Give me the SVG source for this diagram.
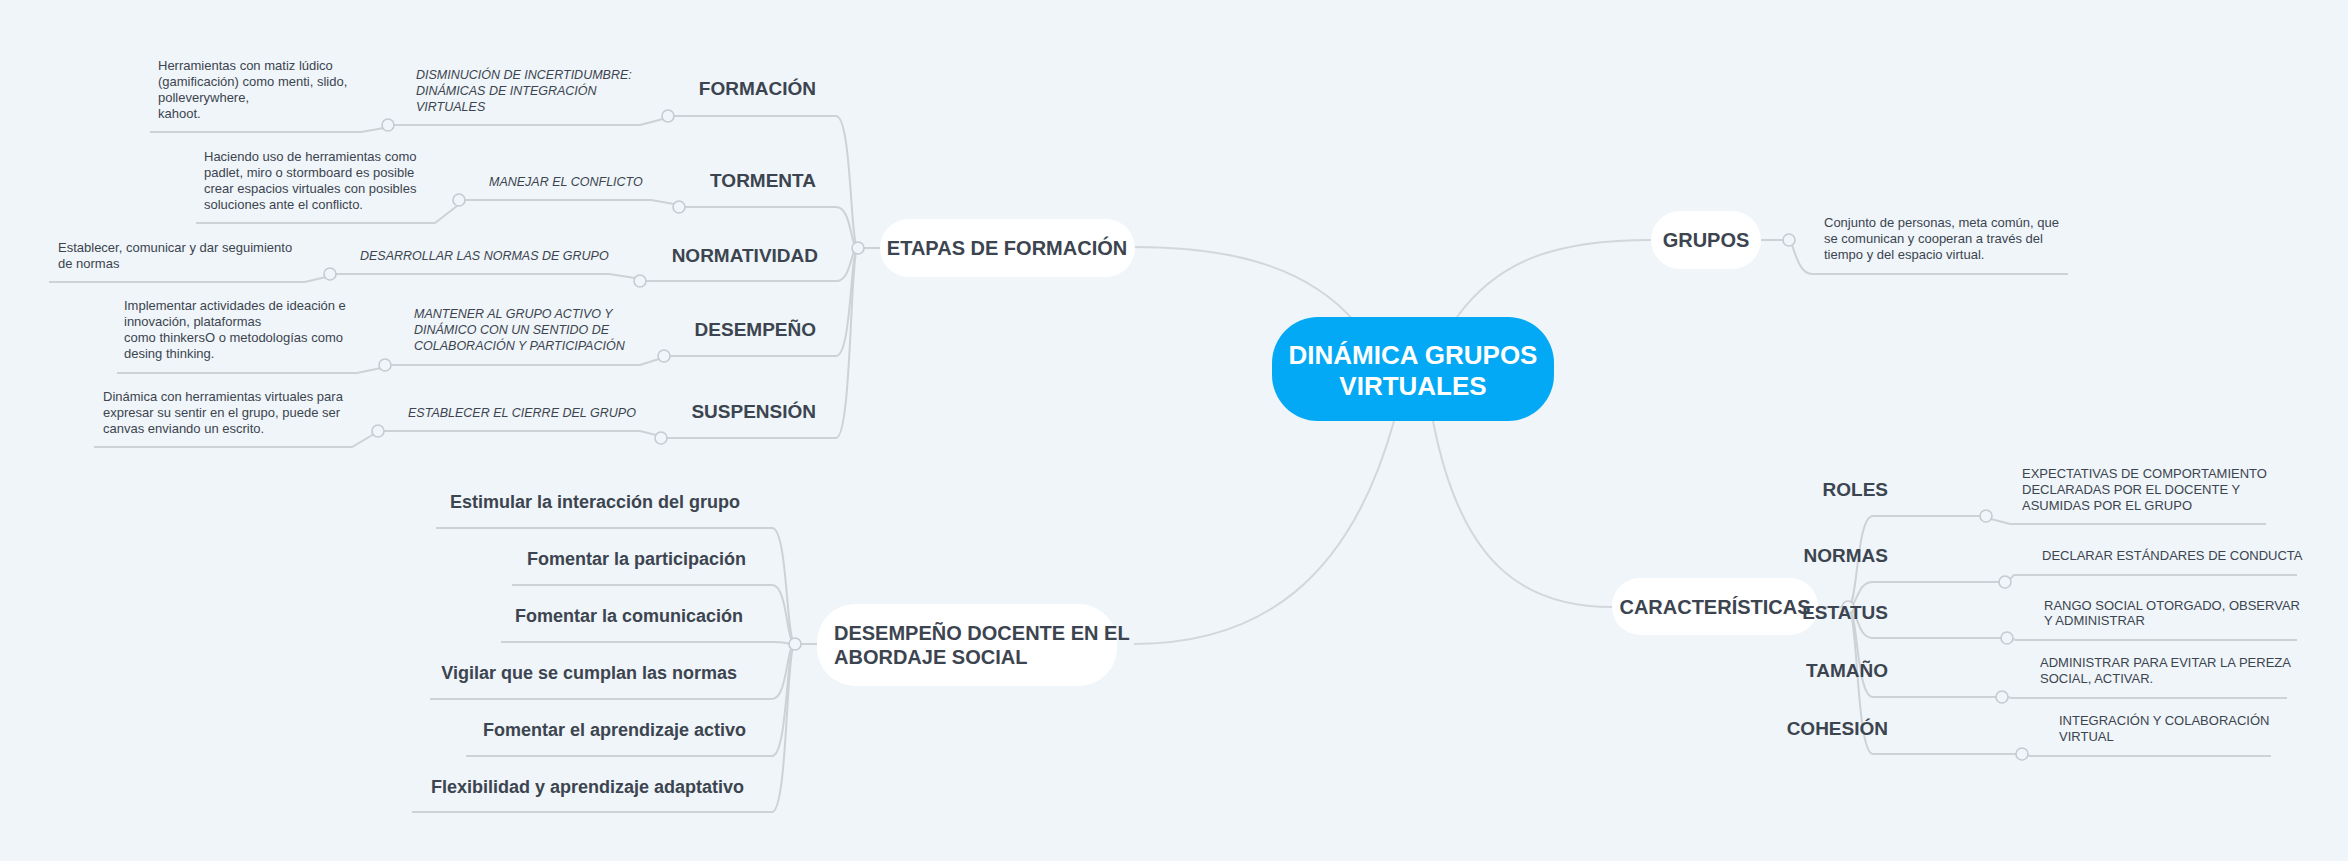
<svg xmlns="http://www.w3.org/2000/svg" width="2348" height="861" viewBox="0 0 2348 861">
<style>
.ln{fill:none;stroke:#cdd2d7;stroke-width:2}
.cn{fill:none;stroke:#d3d7db;stroke-width:2}
.dot{fill:#eff5f8;stroke:#c5cbd0;stroke-width:1.6}
.bx{fill:#ffffff}
.t{font-family:"Liberation Sans",Arial,sans-serif;fill:#3c4450}
.h{font-size:19px;font-weight:bold;text-anchor:end}
.b{font-size:20px;font-weight:bold}
.i{font-size:12.5px;font-style:italic}
.s{font-size:13px}
.d{font-size:18px;font-weight:bold;text-anchor:end}
</style>
<rect width="2348" height="861" fill="#eff5f8"/>
<g id="connectors">
<path class="cn" d="M1355,322 C1300,258 1210,247 1134,247"/>
<path class="cn" d="M1457,317 C1500,258 1560,240 1651,240"/>
<path class="cn" d="M1433,421 C1460,560 1520,607 1612,607"/>
<path class="cn" d="M1394,421 C1350,580 1260,644 1134,644"/>
<path class="ln" d="M1134,248 H852"/>
<path class="ln" d="M858,248 C850,248 852,116 836,116 H674"/>
<path class="ln" d="M858,248 C850,248 852,207 836,207 H685"/>
<path class="ln" d="M858,248 C850,248 852,281 836,281 H646"/>
<path class="ln" d="M858,248 C850,248 852,356 836,356 H670"/>
<path class="ln" d="M858,248 C850,248 852,438 836,438 H667"/>
<path class="ln" d="M663,119 L640,125 H394"/><path class="ln" d="M384,128 L361,132 H150"/>
<path class="ln" d="M674,204 L651,200 H465"/><path class="ln" d="M457,206 L435,223 H196"/>
<path class="ln" d="M635,278 L609,274 H336"/><path class="ln" d="M326,277 L305,282 H49"/>
<path class="ln" d="M659,359 L640,365 H391"/><path class="ln" d="M381,368 L357,373 H117"/>
<path class="ln" d="M656,435 L640,431 H384"/><path class="ln" d="M374,434 L352,447 H94"/>
<path class="ln" d="M1761,240 H1783"/><path class="ln" d="M1792,245 C1800,270 1805,274 1813,274 H2068"/>
<path class="ln" d="M1818,607 H1842"/>
<path class="ln" d="M1848,607 C1858,607 1856,516 1873,516 H1980"/>
<path class="ln" d="M1848,607 C1858,607 1856,582 1873,582 H1999"/>
<path class="ln" d="M1848,607 C1858,607 1856,638 1873,638 H2001"/>
<path class="ln" d="M1848,607 C1858,607 1856,697 1873,697 H1996"/>
<path class="ln" d="M1848,607 C1858,607 1856,754 1873,754 H2016"/>
<path class="ln" d="M1991,519 L2010,524 H2266"/>
<path class="ln" d="M2010,579 L2014,575 H2297"/>
<path class="ln" d="M2012,639 L2016,640 H2297"/>
<path class="ln" d="M2007,697 L2012,698 H2287"/>
<path class="ln" d="M2027,755 L2030,756 H2271"/>
<path class="ln" d="M817,644 H801"/>
<path class="ln" d="M795,644 C786,644 788,528 772,528 H436"/>
<path class="ln" d="M795,644 C786,644 788,585 772,585 H512"/>
<path class="ln" d="M795,644 C786,644 788,642 772,642 H501"/>
<path class="ln" d="M795,644 C786,644 788,699 772,699 H430"/>
<path class="ln" d="M795,644 C786,644 788,756 772,756 H466"/>
<path class="ln" d="M795,644 C786,644 788,812 772,812 H412"/>
<g>
<circle class="dot" cx="858" cy="248" r="6"/>
<circle class="dot" cx="668" cy="116" r="6"/><circle class="dot" cx="388" cy="125" r="6"/>
<circle class="dot" cx="679" cy="207" r="6"/><circle class="dot" cx="459" cy="200" r="6"/>
<circle class="dot" cx="640" cy="281" r="6"/><circle class="dot" cx="330" cy="274" r="6"/>
<circle class="dot" cx="664" cy="356" r="6"/><circle class="dot" cx="385" cy="365" r="6"/>
<circle class="dot" cx="661" cy="438" r="6"/><circle class="dot" cx="378" cy="431" r="6"/>
<circle class="dot" cx="1789" cy="240" r="6"/>
<circle class="dot" cx="1848" cy="607" r="6"/>
<circle class="dot" cx="1986" cy="516" r="6"/><circle class="dot" cx="2005" cy="582" r="6"/>
<circle class="dot" cx="2007" cy="638" r="6"/><circle class="dot" cx="2002" cy="697" r="6"/>
<circle class="dot" cx="2022" cy="754" r="6"/>
<circle class="dot" cx="795" cy="644" r="6"/>
</g>
</g>
<g id="central">
<rect x="1272" y="317" width="282" height="104" rx="46" fill="#03a9f4"/>
<text x="1413" y="364" font-family="Liberation Sans,Arial,sans-serif" font-size="26" font-weight="bold" fill="#fff" text-anchor="middle">DINÁMICA GRUPOS</text>
<text x="1413" y="395" font-family="Liberation Sans,Arial,sans-serif" font-size="26" font-weight="bold" fill="#fff" text-anchor="middle">VIRTUALES</text>
</g>
<g id="etapas">
<rect class="bx" x="880" y="219" width="255" height="58" rx="29"/>
<text class="t b" x="1007" y="255" text-anchor="middle">ETAPAS DE FORMACIÓN</text>
</g>
<g id="formacion"><text class="t h" x="816" y="95">FORMACIÓN</text>
<text class="t i" x="416" y="79">DISMINUCIÓN DE INCERTIDUMBRE:</text><text class="t i" x="416" y="95">DINÁMICAS DE INTEGRACIÓN</text><text class="t i" x="416" y="111">VIRTUALES</text>
<text class="t s" x="158" y="70">Herramientas con matiz lúdico</text><text class="t s" x="158" y="86">(gamificación) como menti, slido,</text><text class="t s" x="158" y="102">polleverywhere,</text><text class="t s" x="158" y="118">kahoot.</text></g>
<g id="tormenta"><text class="t h" x="816" y="187">TORMENTA</text>
<text class="t i" x="489" y="186">MANEJAR EL CONFLICTO</text>
<text class="t s" x="204" y="161">Haciendo uso de herramientas como</text><text class="t s" x="204" y="177">padlet, miro o stormboard es posible</text><text class="t s" x="204" y="193">crear espacios virtuales con posibles</text><text class="t s" x="204" y="209">soluciones ante el conflicto.</text></g>
<g id="normatividad"><text class="t h" x="818" y="262">NORMATIVIDAD</text>
<text class="t i" x="360" y="260">DESARROLLAR LAS NORMAS DE GRUPO</text>
<text class="t s" x="58" y="252">Establecer, comunicar y dar seguimiento</text><text class="t s" x="58" y="268">de normas</text></g>
<g id="desempeno"><text class="t h" x="816" y="336">DESEMPEÑO</text>
<text class="t i" x="414" y="318">MANTENER AL GRUPO ACTIVO Y</text><text class="t i" x="414" y="334">DINÁMICO CON UN SENTIDO DE</text><text class="t i" x="414" y="350">COLABORACIÓN Y PARTICIPACIÓN</text>
<text class="t s" x="124" y="310">Implementar actividades de ideación e</text><text class="t s" x="124" y="326">innovación, plataformas</text><text class="t s" x="124" y="342">como thinkersO o metodologías como</text><text class="t s" x="124" y="358">desing thinking.</text></g>
<g id="suspension"><text class="t h" x="816" y="418">SUSPENSIÓN</text>
<text class="t i" x="408" y="417">ESTABLECER EL CIERRE DEL GRUPO</text>
<text class="t s" x="103" y="401">Dinámica con herramientas virtuales para</text><text class="t s" x="103" y="417">expresar su sentir en el grupo, puede ser</text><text class="t s" x="103" y="433">canvas enviando un escrito.</text></g>
<g id="grupos">
<rect class="bx" x="1651" y="211" width="110" height="58" rx="29"/>
<text class="t b" x="1706" y="247" text-anchor="middle">GRUPOS</text>
<text class="t s" x="1824" y="227">Conjunto de personas, meta común, que</text><text class="t s" x="1824" y="243">se comunican y cooperan a través del</text><text class="t s" x="1824" y="259">tiempo y del espacio virtual.</text>
</g>
<g id="caracteristicas">
<rect class="bx" x="1612" y="578" width="206" height="57" rx="28"/>
<text class="t b" x="1715" y="614" text-anchor="middle">CARACTERÍSTICAS</text>
<text class="t h" x="1888" y="496" text-anchor="start">ROLES</text>
<text class="t s" x="2022" y="478">EXPECTATIVAS DE COMPORTAMIENTO</text><text class="t s" x="2022" y="494">DECLARADAS POR EL DOCENTE Y</text><text class="t s" x="2022" y="510">ASUMIDAS POR EL GRUPO</text>
<text class="t h" x="1888" y="562" text-anchor="start">NORMAS</text>
<text class="t s" x="2042" y="560">DECLARAR ESTÁNDARES DE CONDUCTA</text>
<text class="t h" x="1888" y="619" text-anchor="start">ESTATUS</text>
<text class="t s" x="2044" y="610">RANGO SOCIAL OTORGADO, OBSERVAR</text><text class="t s" x="2044" y="625">Y ADMINISTRAR</text>
<text class="t h" x="1888" y="677" text-anchor="start">TAMAÑO</text>
<text class="t s" x="2040" y="667">ADMINISTRAR PARA EVITAR LA PEREZA</text><text class="t s" x="2040" y="683">SOCIAL, ACTIVAR.</text>
<text class="t h" x="1888" y="735" text-anchor="start">COHESIÓN</text>
<text class="t s" x="2059" y="725">INTEGRACIÓN Y COLABORACIÓN</text><text class="t s" x="2059" y="741">VIRTUAL</text>
</g>
<g id="docente">
<rect class="bx" x="817" y="604" width="300" height="82" rx="38"/>
<text class="t b" x="834" y="640">DESEMPEÑO DOCENTE EN EL</text><text class="t b" x="834" y="664">ABORDAJE SOCIAL</text>
<text class="t d" x="740" y="508">Estimular la interacción del grupo</text>
<text class="t d" x="746" y="565">Fomentar la participación</text>
<text class="t d" x="743" y="622">Fomentar la comunicación</text>
<text class="t d" x="737" y="679">Vigilar que se cumplan las normas</text>
<text class="t d" x="746" y="736">Fomentar el aprendizaje activo</text>
<text class="t d" x="744" y="793">Flexibilidad y aprendizaje adaptativo</text>
</g>
</svg>
